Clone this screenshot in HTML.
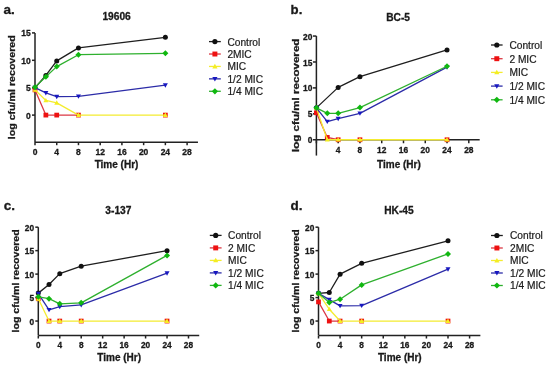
<!DOCTYPE html>
<html><head><meta charset="utf-8"><title>Time-kill curves</title>
<style>
html,body{margin:0;padding:0;background:#fff;}
body{width:550px;height:368px;overflow:hidden;}
svg{display:block;font-family:"Liberation Sans", sans-serif;filter:blur(0.35px);}
text{fill:#1a1a1a;}
text.b{stroke:#1a1a1a;stroke-width:0.3px;}
text.n{stroke:#1a1a1a;stroke-width:0.2px;}
</style></head>
<body>
<svg width="550" height="368" viewBox="0 0 550 368">
<rect width="550" height="368" fill="#fff"/>
<text class="b" x="3.50" y="14.40" font-size="13.5" font-weight="bold" text-anchor="start" >a.</text>
<text class="b" x="116.60" y="19.70" font-size="10.2" font-weight="bold" text-anchor="middle" >19606</text>
<g stroke="#222222" stroke-width="1.5" fill="none">
<path d="M35.00,32.90 V142.50"/>
<path d="M35.00,142.20 H197.96"/>
<path d="M32.00,32.90 H35.00"/>
<path d="M32.00,60.30 H35.00"/>
<path d="M32.00,87.70 H35.00"/>
<path d="M32.00,115.10 H35.00"/>
<path d="M35.00,142.20 V145.20"/>
<path d="M56.73,142.20 V145.20"/>
<path d="M78.46,142.20 V145.20"/>
<path d="M100.18,142.20 V145.20"/>
<path d="M121.91,142.20 V145.20"/>
<path d="M143.64,142.20 V145.20"/>
<path d="M165.37,142.20 V145.20"/>
<path d="M187.10,142.20 V145.20"/>
</g>
<text class="b" x="30.80" y="36.47" font-size="8.5" font-weight="bold" text-anchor="end" >15</text>
<text class="b" x="30.80" y="63.87" font-size="8.5" font-weight="bold" text-anchor="end" >10</text>
<text class="b" x="30.80" y="91.27" font-size="8.5" font-weight="bold" text-anchor="end" >5</text>
<text class="b" x="30.80" y="118.67" font-size="8.5" font-weight="bold" text-anchor="end" >0</text>
<text class="b" x="35.00" y="154.80" font-size="8.5" font-weight="bold" text-anchor="middle" >0</text>
<text class="b" x="56.73" y="154.80" font-size="8.5" font-weight="bold" text-anchor="middle" >4</text>
<text class="b" x="78.46" y="154.80" font-size="8.5" font-weight="bold" text-anchor="middle" >8</text>
<text class="b" x="100.18" y="154.80" font-size="8.5" font-weight="bold" text-anchor="middle" >12</text>
<text class="b" x="121.91" y="154.80" font-size="8.5" font-weight="bold" text-anchor="middle" >16</text>
<text class="b" x="143.64" y="154.80" font-size="8.5" font-weight="bold" text-anchor="middle" >20</text>
<text class="b" x="165.37" y="154.80" font-size="8.5" font-weight="bold" text-anchor="middle" >24</text>
<text class="b" x="187.10" y="154.80" font-size="8.5" font-weight="bold" text-anchor="middle" >28</text>
<text class="b" x="116.50" y="168.40" font-size="10" font-weight="bold" text-anchor="middle" >Time (Hr)</text>
<text transform="translate(15.00,87.25) rotate(-90) scale(1.085,1)" x="0" y="0" font-size="9.8" font-weight="bold" text-anchor="middle" class="b">log cfu/ml recovered</text>
<path d="M35.00,87.70 L45.86,75.48 L56.73,60.90 L78.46,47.92 L165.37,37.28" stroke="#1e1e1e" stroke-width="1.3" fill="none" stroke-linejoin="round"/>
<circle cx="35.00" cy="87.70" r="2.50" fill="#111111"/>
<circle cx="45.86" cy="75.48" r="2.50" fill="#111111"/>
<circle cx="56.73" cy="60.90" r="2.50" fill="#111111"/>
<circle cx="78.46" cy="47.92" r="2.50" fill="#111111"/>
<circle cx="165.37" cy="37.28" r="2.50" fill="#111111"/>
<path d="M35.00,89.89 L45.86,115.10 L56.73,115.10 L78.46,115.10" stroke="#dc3844" stroke-width="1.3" fill="none" stroke-linejoin="round"/>
<rect x="32.62" y="87.52" width="4.75" height="4.75" fill="#ee1111"/>
<rect x="43.49" y="112.72" width="4.75" height="4.75" fill="#ee1111"/>
<rect x="54.35" y="112.72" width="4.75" height="4.75" fill="#ee1111"/>
<rect x="76.08" y="112.72" width="4.75" height="4.75" fill="#ee1111"/>
<rect x="162.99" y="112.72" width="4.75" height="4.75" fill="#ee1111"/>
<path d="M35.00,89.89 L45.86,100.41 L56.73,102.82 L78.46,115.10 L165.37,115.10" stroke="#f4ec30" stroke-width="1.3" fill="none" stroke-linejoin="round"/>
<path d="M35.00,87.39 L37.50,91.77 L32.50,91.77 Z" fill="#f4ee22"/>
<path d="M45.86,97.91 L48.36,102.29 L43.36,102.29 Z" fill="#f4ee22"/>
<path d="M56.73,100.32 L59.23,104.70 L54.23,104.70 Z" fill="#f4ee22"/>
<path d="M78.46,112.60 L80.96,116.97 L75.96,116.97 Z" fill="#f4ee22"/>
<path d="M165.37,112.60 L167.87,116.97 L162.87,116.97 Z" fill="#f4ee22"/>
<path d="M35.00,87.70 L45.86,92.91 L56.73,96.69 L78.46,96.30 L165.37,85.18" stroke="#2c2ca8" stroke-width="1.3" fill="none" stroke-linejoin="round"/>
<path d="M35.00,90.20 L37.50,85.82 L32.50,85.82 Z" fill="#1818c0"/>
<path d="M45.86,95.41 L48.36,91.03 L43.36,91.03 Z" fill="#1818c0"/>
<path d="M56.73,99.19 L59.23,94.81 L54.23,94.81 Z" fill="#1818c0"/>
<path d="M78.46,98.80 L80.96,94.43 L75.96,94.43 Z" fill="#1818c0"/>
<path d="M165.37,87.68 L167.87,83.30 L162.87,83.30 Z" fill="#1818c0"/>
<path d="M35.00,87.15 L45.86,76.79 L56.73,66.60 L78.46,54.71 L165.37,53.29" stroke="#2eb02e" stroke-width="1.3" fill="none" stroke-linejoin="round"/>
<path d="M35.00,84.15 L38.00,87.15 L35.00,90.15 L32.00,87.15 Z" fill="#10b810"/>
<path d="M45.86,73.79 L48.86,76.79 L45.86,79.79 L42.86,76.79 Z" fill="#10b810"/>
<path d="M56.73,63.60 L59.73,66.60 L56.73,69.60 L53.73,66.60 Z" fill="#10b810"/>
<path d="M78.46,51.71 L81.46,54.71 L78.46,57.71 L75.46,54.71 Z" fill="#10b810"/>
<path d="M165.37,50.29 L168.37,53.29 L165.37,56.29 L162.37,53.29 Z" fill="#10b810"/>
<path d="M209.00,41.60 H220.80" stroke="#1e1e1e" stroke-width="1.3"/>
<circle cx="214.90" cy="41.60" r="2.60" fill="#111111"/>
<text class="n" x="227.40" y="45.50" font-size="10.2" font-weight="normal" text-anchor="start" >Control</text>
<path d="M209.00,54.02 H220.80" stroke="#dc3844" stroke-width="1.3"/>
<rect x="212.43" y="51.55" width="4.94" height="4.94" fill="#ee1111"/>
<text class="n" x="227.40" y="57.92" font-size="10.2" font-weight="normal" text-anchor="start" >2MIC</text>
<path d="M209.00,66.44 H220.80" stroke="#f4ec30" stroke-width="1.3"/>
<path d="M214.90,63.84 L217.50,68.39 L212.30,68.39 Z" fill="#f4ee22"/>
<text class="n" x="227.40" y="70.34" font-size="10.2" font-weight="normal" text-anchor="start" >MIC</text>
<path d="M209.00,78.86 H220.80" stroke="#2c2ca8" stroke-width="1.3"/>
<path d="M214.90,81.46 L217.50,76.91 L212.30,76.91 Z" fill="#1818c0"/>
<text class="n" x="227.40" y="82.76" font-size="10.2" font-weight="normal" text-anchor="start" >1/2 MIC</text>
<path d="M209.00,91.28 H220.80" stroke="#2eb02e" stroke-width="1.3"/>
<path d="M214.90,88.16 L218.02,91.28 L214.90,94.40 L211.78,91.28 Z" fill="#10b810"/>
<text class="n" x="227.40" y="95.18" font-size="10.2" font-weight="normal" text-anchor="start" >1/4 MIC</text>
<text class="b" x="290.60" y="14.40" font-size="13.2" font-weight="bold" text-anchor="start" >b.</text>
<text class="b" x="398.10" y="21.00" font-size="10.2" font-weight="bold" text-anchor="middle" >BC-5</text>
<g stroke="#222222" stroke-width="1.5" fill="none">
<path d="M316.40,36.05 V155.56"/>
<path d="M316.40,139.75 H479.69"/>
<path d="M312.90,36.05 H316.40"/>
<path d="M312.90,61.98 H316.40"/>
<path d="M312.90,87.90 H316.40"/>
<path d="M312.90,113.83 H316.40"/>
<path d="M312.90,139.75 H316.40"/>
<path d="M316.40,139.75 V143.25"/>
<path d="M338.17,139.75 V143.25"/>
<path d="M359.94,139.75 V143.25"/>
<path d="M381.72,139.75 V143.25"/>
<path d="M403.49,139.75 V143.25"/>
<path d="M425.26,139.75 V143.25"/>
<path d="M447.03,139.75 V143.25"/>
<path d="M468.80,139.75 V143.25"/>
</g>
<text class="b" x="312.40" y="39.58" font-size="8.4" font-weight="bold" text-anchor="end" >20</text>
<text class="b" x="312.40" y="65.50" font-size="8.4" font-weight="bold" text-anchor="end" >15</text>
<text class="b" x="312.40" y="91.43" font-size="8.4" font-weight="bold" text-anchor="end" >10</text>
<text class="b" x="312.40" y="117.35" font-size="8.4" font-weight="bold" text-anchor="end" >5</text>
<text class="b" x="312.40" y="143.28" font-size="8.4" font-weight="bold" text-anchor="end" >0</text>
<text class="b" x="338.17" y="152.90" font-size="8.4" font-weight="bold" text-anchor="middle" >4</text>
<text class="b" x="359.94" y="152.90" font-size="8.4" font-weight="bold" text-anchor="middle" >8</text>
<text class="b" x="381.72" y="152.90" font-size="8.4" font-weight="bold" text-anchor="middle" >12</text>
<text class="b" x="403.49" y="152.90" font-size="8.4" font-weight="bold" text-anchor="middle" >16</text>
<text class="b" x="425.26" y="152.90" font-size="8.4" font-weight="bold" text-anchor="middle" >20</text>
<text class="b" x="447.03" y="152.90" font-size="8.4" font-weight="bold" text-anchor="middle" >24</text>
<text class="b" x="468.80" y="152.90" font-size="8.4" font-weight="bold" text-anchor="middle" >28</text>
<text class="b" x="398.90" y="167.50" font-size="10" font-weight="bold" text-anchor="middle" >Time (Hr)</text>
<text transform="translate(298.90,95.30) rotate(-90) scale(1.29,1)" x="0" y="0" font-size="9.0" font-weight="bold" text-anchor="middle" class="b">log cfu/ml recovered</text>
<path d="M316.40,107.86 L338.17,87.38 L359.94,76.65 L447.03,49.89" stroke="#1e1e1e" stroke-width="1.3" fill="none" stroke-linejoin="round"/>
<circle cx="316.40" cy="107.86" r="2.50" fill="#111111"/>
<circle cx="338.17" cy="87.38" r="2.50" fill="#111111"/>
<circle cx="359.94" cy="76.65" r="2.50" fill="#111111"/>
<circle cx="447.03" cy="49.89" r="2.50" fill="#111111"/>
<path d="M316.40,112.79 L327.29,137.42 L338.17,139.75" stroke="#dc3844" stroke-width="1.3" fill="none" stroke-linejoin="round"/>
<rect x="314.02" y="110.41" width="4.75" height="4.75" fill="#ee1111"/>
<rect x="324.91" y="135.04" width="4.75" height="4.75" fill="#ee1111"/>
<rect x="335.80" y="137.38" width="4.75" height="4.75" fill="#ee1111"/>
<rect x="357.57" y="137.38" width="4.75" height="4.75" fill="#ee1111"/>
<rect x="444.66" y="137.38" width="4.75" height="4.75" fill="#ee1111"/>
<path d="M316.40,107.86 L327.29,139.75 L338.17,139.75 L359.94,139.75 L447.03,139.75" stroke="#f4ec30" stroke-width="1.3" fill="none" stroke-linejoin="round"/>
<path d="M316.40,105.36 L318.90,109.74 L313.90,109.74 Z" fill="#f4ee22"/>
<path d="M327.29,137.25 L329.79,141.62 L324.79,141.62 Z" fill="#f4ee22"/>
<path d="M338.17,137.25 L340.67,141.62 L335.67,141.62 Z" fill="#f4ee22"/>
<path d="M359.94,137.25 L362.44,141.62 L357.44,141.62 Z" fill="#f4ee22"/>
<path d="M447.03,137.25 L449.53,141.62 L444.53,141.62 Z" fill="#f4ee22"/>
<path d="M316.40,107.86 L327.29,121.60 L338.17,118.70 L359.94,113.36 L447.03,67.16" stroke="#2c2ca8" stroke-width="1.3" fill="none" stroke-linejoin="round"/>
<path d="M316.40,110.36 L318.90,105.99 L313.90,105.99 Z" fill="#1818c0"/>
<path d="M327.29,124.10 L329.79,119.73 L324.79,119.73 Z" fill="#1818c0"/>
<path d="M338.17,121.20 L340.67,116.82 L335.67,116.82 Z" fill="#1818c0"/>
<path d="M359.94,115.86 L362.44,111.48 L357.44,111.48 Z" fill="#1818c0"/>
<path d="M447.03,69.66 L449.53,65.29 L444.53,65.29 Z" fill="#1818c0"/>
<path d="M316.40,107.86 L327.29,113.31 L338.17,113.31 L359.94,107.60 L447.03,66.23" stroke="#2eb02e" stroke-width="1.3" fill="none" stroke-linejoin="round"/>
<path d="M316.40,104.86 L319.40,107.86 L316.40,110.86 L313.40,107.86 Z" fill="#10b810"/>
<path d="M327.29,110.31 L330.29,113.31 L327.29,116.31 L324.29,113.31 Z" fill="#10b810"/>
<path d="M338.17,110.31 L341.17,113.31 L338.17,116.31 L335.17,113.31 Z" fill="#10b810"/>
<path d="M359.94,104.60 L362.94,107.60 L359.94,110.60 L356.94,107.60 Z" fill="#10b810"/>
<path d="M447.03,63.23 L450.03,66.23 L447.03,69.23 L444.03,66.23 Z" fill="#10b810"/>
<path d="M491.00,45.00 H502.60" stroke="#1e1e1e" stroke-width="1.3"/>
<circle cx="496.80" cy="45.00" r="2.60" fill="#111111"/>
<text class="n" x="509.40" y="48.90" font-size="10.2" font-weight="normal" text-anchor="start" >Control</text>
<path d="M491.00,58.70 H502.60" stroke="#dc3844" stroke-width="1.3"/>
<rect x="494.33" y="56.23" width="4.94" height="4.94" fill="#ee1111"/>
<text class="n" x="509.40" y="62.60" font-size="10.2" font-weight="normal" text-anchor="start" >2 MIC</text>
<path d="M491.00,72.40 H502.60" stroke="#f4ec30" stroke-width="1.3"/>
<path d="M496.80,69.80 L499.40,74.35 L494.20,74.35 Z" fill="#f4ee22"/>
<text class="n" x="509.40" y="76.30" font-size="10.2" font-weight="normal" text-anchor="start" >MIC</text>
<path d="M491.00,86.10 H502.60" stroke="#2c2ca8" stroke-width="1.3"/>
<path d="M496.80,88.70 L499.40,84.15 L494.20,84.15 Z" fill="#1818c0"/>
<text class="n" x="509.40" y="90.00" font-size="10.2" font-weight="normal" text-anchor="start" >1/2 MIC</text>
<path d="M491.00,99.80 H502.60" stroke="#2eb02e" stroke-width="1.3"/>
<path d="M496.80,96.68 L499.92,99.80 L496.80,102.92 L493.68,99.80 Z" fill="#10b810"/>
<text class="n" x="509.40" y="103.70" font-size="10.2" font-weight="normal" text-anchor="start" >1/4 MIC</text>
<text class="b" x="3.80" y="210.10" font-size="13.5" font-weight="bold" text-anchor="start" >c.</text>
<text class="b" x="118.40" y="214.10" font-size="10.2" font-weight="bold" text-anchor="middle" >3-137</text>
<g stroke="#222222" stroke-width="1.5" fill="none">
<path d="M38.30,227.17 V335.13"/>
<path d="M38.30,335.50 H199.22"/>
<path d="M35.30,227.17 H38.30"/>
<path d="M35.30,250.64 H38.30"/>
<path d="M35.30,274.11 H38.30"/>
<path d="M35.30,297.58 H38.30"/>
<path d="M35.30,321.05 H38.30"/>
<path d="M38.30,335.50 V338.50"/>
<path d="M59.76,335.50 V338.50"/>
<path d="M81.21,335.50 V338.50"/>
<path d="M102.67,335.50 V338.50"/>
<path d="M124.12,335.50 V338.50"/>
<path d="M145.58,335.50 V338.50"/>
<path d="M167.04,335.50 V338.50"/>
<path d="M188.49,335.50 V338.50"/>
</g>
<text class="b" x="34.10" y="230.66" font-size="8.3" font-weight="bold" text-anchor="end" >20</text>
<text class="b" x="34.10" y="254.13" font-size="8.3" font-weight="bold" text-anchor="end" >15</text>
<text class="b" x="34.10" y="277.60" font-size="8.3" font-weight="bold" text-anchor="end" >10</text>
<text class="b" x="34.10" y="301.07" font-size="8.3" font-weight="bold" text-anchor="end" >5</text>
<text class="b" x="34.10" y="324.54" font-size="8.3" font-weight="bold" text-anchor="end" >0</text>
<text class="b" x="38.30" y="347.80" font-size="8.3" font-weight="bold" text-anchor="middle" >0</text>
<text class="b" x="59.76" y="347.80" font-size="8.3" font-weight="bold" text-anchor="middle" >4</text>
<text class="b" x="81.21" y="347.80" font-size="8.3" font-weight="bold" text-anchor="middle" >8</text>
<text class="b" x="102.67" y="347.80" font-size="8.3" font-weight="bold" text-anchor="middle" >12</text>
<text class="b" x="124.12" y="347.80" font-size="8.3" font-weight="bold" text-anchor="middle" >16</text>
<text class="b" x="145.58" y="347.80" font-size="8.3" font-weight="bold" text-anchor="middle" >20</text>
<text class="b" x="167.04" y="347.80" font-size="8.3" font-weight="bold" text-anchor="middle" >24</text>
<text class="b" x="188.49" y="347.80" font-size="8.3" font-weight="bold" text-anchor="middle" >28</text>
<text class="b" x="119.20" y="360.60" font-size="10" font-weight="bold" text-anchor="middle" >Time (Hr)</text>
<text transform="translate(18.90,280.90) rotate(-90) scale(1.1,1)" x="0" y="0" font-size="9.6" font-weight="bold" text-anchor="middle" class="b">log cfu/ml recovered</text>
<path d="M38.30,293.12 L49.03,284.58 L59.76,273.64 L81.21,266.13 L167.04,250.64" stroke="#1e1e1e" stroke-width="1.3" fill="none" stroke-linejoin="round"/>
<circle cx="38.30" cy="293.12" r="2.50" fill="#111111"/>
<circle cx="49.03" cy="284.58" r="2.50" fill="#111111"/>
<circle cx="59.76" cy="273.64" r="2.50" fill="#111111"/>
<circle cx="81.21" cy="266.13" r="2.50" fill="#111111"/>
<circle cx="167.04" cy="250.64" r="2.50" fill="#111111"/>
<rect x="35.92" y="296.38" width="4.75" height="4.75" fill="#ee1111"/>
<rect x="46.65" y="318.68" width="4.75" height="4.75" fill="#ee1111"/>
<rect x="57.38" y="318.68" width="4.75" height="4.75" fill="#ee1111"/>
<rect x="78.84" y="318.68" width="4.75" height="4.75" fill="#ee1111"/>
<rect x="164.66" y="318.68" width="4.75" height="4.75" fill="#ee1111"/>
<path d="M38.30,298.75 L49.03,321.05 L59.76,321.05 L81.21,321.05 L167.04,321.05" stroke="#f4ec30" stroke-width="1.3" fill="none" stroke-linejoin="round"/>
<path d="M38.30,296.25 L40.80,300.63 L35.80,300.63 Z" fill="#f4ee22"/>
<path d="M49.03,318.55 L51.53,322.93 L46.53,322.93 Z" fill="#f4ee22"/>
<path d="M59.76,318.55 L62.26,322.93 L57.26,322.93 Z" fill="#f4ee22"/>
<path d="M81.21,318.55 L83.71,322.93 L78.71,322.93 Z" fill="#f4ee22"/>
<path d="M167.04,318.55 L169.54,322.93 L164.54,322.93 Z" fill="#f4ee22"/>
<path d="M38.30,293.59 L49.03,309.83 L59.76,306.64 L81.21,304.90 L167.04,273.17" stroke="#2c2ca8" stroke-width="1.3" fill="none" stroke-linejoin="round"/>
<path d="M38.30,296.09 L40.80,291.72 L35.80,291.72 Z" fill="#1818c0"/>
<path d="M49.03,312.33 L51.53,307.96 L46.53,307.96 Z" fill="#1818c0"/>
<path d="M59.76,309.14 L62.26,304.76 L57.26,304.76 Z" fill="#1818c0"/>
<path d="M81.21,307.40 L83.71,303.03 L78.71,303.03 Z" fill="#1818c0"/>
<path d="M167.04,275.67 L169.54,271.30 L164.54,271.30 Z" fill="#1818c0"/>
<path d="M38.30,296.83 L49.03,298.71 L59.76,303.82 L81.21,302.84 L167.04,255.43" stroke="#2eb02e" stroke-width="1.3" fill="none" stroke-linejoin="round"/>
<path d="M38.30,293.83 L41.30,296.83 L38.30,299.83 L35.30,296.83 Z" fill="#10b810"/>
<path d="M49.03,295.71 L52.03,298.71 L49.03,301.71 L46.03,298.71 Z" fill="#10b810"/>
<path d="M59.76,300.82 L62.76,303.82 L59.76,306.82 L56.76,303.82 Z" fill="#10b810"/>
<path d="M81.21,299.84 L84.21,302.84 L81.21,305.84 L78.21,302.84 Z" fill="#10b810"/>
<path d="M167.04,252.43 L170.04,255.43 L167.04,258.43 L164.04,255.43 Z" fill="#10b810"/>
<path d="M209.80,235.40 H221.60" stroke="#1e1e1e" stroke-width="1.3"/>
<circle cx="215.70" cy="235.40" r="2.60" fill="#111111"/>
<text class="n" x="228.10" y="239.30" font-size="10.2" font-weight="normal" text-anchor="start" >Control</text>
<path d="M209.80,247.90 H221.60" stroke="#dc3844" stroke-width="1.3"/>
<rect x="213.23" y="245.43" width="4.94" height="4.94" fill="#ee1111"/>
<text class="n" x="228.10" y="251.80" font-size="10.2" font-weight="normal" text-anchor="start" >2 MIC</text>
<path d="M209.80,260.40 H221.60" stroke="#f4ec30" stroke-width="1.3"/>
<path d="M215.70,257.80 L218.30,262.35 L213.10,262.35 Z" fill="#f4ee22"/>
<text class="n" x="228.10" y="264.30" font-size="10.2" font-weight="normal" text-anchor="start" >MIC</text>
<path d="M209.80,272.90 H221.60" stroke="#2c2ca8" stroke-width="1.3"/>
<path d="M215.70,275.50 L218.30,270.95 L213.10,270.95 Z" fill="#1818c0"/>
<text class="n" x="228.10" y="276.80" font-size="10.2" font-weight="normal" text-anchor="start" >1/2 MIC</text>
<path d="M209.80,285.40 H221.60" stroke="#2eb02e" stroke-width="1.3"/>
<path d="M215.70,282.28 L218.82,285.40 L215.70,288.52 L212.58,285.40 Z" fill="#10b810"/>
<text class="n" x="228.10" y="289.30" font-size="10.2" font-weight="normal" text-anchor="start" >1/4 MIC</text>
<text class="b" x="290.40" y="210.10" font-size="13.5" font-weight="bold" text-anchor="start" >d.</text>
<text class="b" x="399.00" y="214.10" font-size="10.2" font-weight="bold" text-anchor="middle" >HK-45</text>
<g stroke="#222222" stroke-width="1.5" fill="none">
<path d="M318.50,227.17 V335.13"/>
<path d="M318.50,335.50 H480.38"/>
<path d="M315.50,227.17 H318.50"/>
<path d="M315.50,250.64 H318.50"/>
<path d="M315.50,274.11 H318.50"/>
<path d="M315.50,297.58 H318.50"/>
<path d="M315.50,321.05 H318.50"/>
<path d="M318.50,335.50 V338.50"/>
<path d="M340.08,335.50 V338.50"/>
<path d="M361.67,335.50 V338.50"/>
<path d="M383.25,335.50 V338.50"/>
<path d="M404.84,335.50 V338.50"/>
<path d="M426.42,335.50 V338.50"/>
<path d="M448.00,335.50 V338.50"/>
<path d="M469.59,335.50 V338.50"/>
</g>
<text class="b" x="314.30" y="230.66" font-size="8.3" font-weight="bold" text-anchor="end" >20</text>
<text class="b" x="314.30" y="254.13" font-size="8.3" font-weight="bold" text-anchor="end" >15</text>
<text class="b" x="314.30" y="277.60" font-size="8.3" font-weight="bold" text-anchor="end" >10</text>
<text class="b" x="314.30" y="301.07" font-size="8.3" font-weight="bold" text-anchor="end" >5</text>
<text class="b" x="314.30" y="324.54" font-size="8.3" font-weight="bold" text-anchor="end" >0</text>
<text class="b" x="318.50" y="347.80" font-size="8.3" font-weight="bold" text-anchor="middle" >0</text>
<text class="b" x="340.08" y="347.80" font-size="8.3" font-weight="bold" text-anchor="middle" >4</text>
<text class="b" x="361.67" y="347.80" font-size="8.3" font-weight="bold" text-anchor="middle" >8</text>
<text class="b" x="383.25" y="347.80" font-size="8.3" font-weight="bold" text-anchor="middle" >12</text>
<text class="b" x="404.84" y="347.80" font-size="8.3" font-weight="bold" text-anchor="middle" >16</text>
<text class="b" x="426.42" y="347.80" font-size="8.3" font-weight="bold" text-anchor="middle" >20</text>
<text class="b" x="448.00" y="347.80" font-size="8.3" font-weight="bold" text-anchor="middle" >24</text>
<text class="b" x="469.59" y="347.80" font-size="8.3" font-weight="bold" text-anchor="middle" >28</text>
<text class="b" x="399.80" y="360.60" font-size="10" font-weight="bold" text-anchor="middle" >Time (Hr)</text>
<text transform="translate(298.90,280.90) rotate(-90) scale(1.1,1)" x="0" y="0" font-size="9.6" font-weight="bold" text-anchor="middle" class="b">log cfu/ml recovered</text>
<path d="M318.50,293.36 L329.29,292.51 L340.08,274.16 L361.67,263.31 L448.00,240.78" stroke="#1e1e1e" stroke-width="1.3" fill="none" stroke-linejoin="round"/>
<circle cx="318.50" cy="293.36" r="2.50" fill="#111111"/>
<circle cx="329.29" cy="292.51" r="2.50" fill="#111111"/>
<circle cx="340.08" cy="274.16" r="2.50" fill="#111111"/>
<circle cx="361.67" cy="263.31" r="2.50" fill="#111111"/>
<circle cx="448.00" cy="240.78" r="2.50" fill="#111111"/>
<path d="M318.50,301.90 L329.29,321.05 L340.08,321.05" stroke="#dc3844" stroke-width="1.3" fill="none" stroke-linejoin="round"/>
<rect x="316.12" y="299.52" width="4.75" height="4.75" fill="#ee1111"/>
<rect x="326.92" y="318.68" width="4.75" height="4.75" fill="#ee1111"/>
<rect x="337.71" y="318.68" width="4.75" height="4.75" fill="#ee1111"/>
<rect x="359.29" y="318.68" width="4.75" height="4.75" fill="#ee1111"/>
<rect x="445.63" y="318.68" width="4.75" height="4.75" fill="#ee1111"/>
<path d="M318.50,293.36 L329.29,309.22 L340.08,321.05 L361.67,321.05 L448.00,321.05" stroke="#f4ec30" stroke-width="1.3" fill="none" stroke-linejoin="round"/>
<path d="M318.50,290.86 L321.00,295.23 L316.00,295.23 Z" fill="#f4ee22"/>
<path d="M329.29,306.72 L331.79,311.10 L326.79,311.10 Z" fill="#f4ee22"/>
<path d="M340.08,318.55 L342.58,322.93 L337.58,322.93 Z" fill="#f4ee22"/>
<path d="M361.67,318.55 L364.17,322.93 L359.17,322.93 Z" fill="#f4ee22"/>
<path d="M448.00,318.55 L450.50,322.93 L445.50,322.93 Z" fill="#f4ee22"/>
<path d="M318.50,293.36 L329.29,299.60 L340.08,305.84 L361.67,305.61 L448.00,269.18" stroke="#2c2ca8" stroke-width="1.3" fill="none" stroke-linejoin="round"/>
<path d="M318.50,295.86 L321.00,291.48 L316.00,291.48 Z" fill="#1818c0"/>
<path d="M329.29,302.10 L331.79,297.72 L326.79,297.72 Z" fill="#1818c0"/>
<path d="M340.08,308.34 L342.58,303.97 L337.58,303.97 Z" fill="#1818c0"/>
<path d="M361.67,308.11 L364.17,303.73 L359.17,303.73 Z" fill="#1818c0"/>
<path d="M448.00,271.68 L450.50,267.31 L445.50,267.31 Z" fill="#1818c0"/>
<path d="M318.50,293.36 L329.29,302.51 L340.08,299.22 L361.67,284.91 L448.00,253.93" stroke="#2eb02e" stroke-width="1.3" fill="none" stroke-linejoin="round"/>
<path d="M318.50,290.36 L321.50,293.36 L318.50,296.36 L315.50,293.36 Z" fill="#10b810"/>
<path d="M329.29,299.51 L332.29,302.51 L329.29,305.51 L326.29,302.51 Z" fill="#10b810"/>
<path d="M340.08,296.22 L343.08,299.22 L340.08,302.22 L337.08,299.22 Z" fill="#10b810"/>
<path d="M361.67,281.91 L364.67,284.91 L361.67,287.91 L358.67,284.91 Z" fill="#10b810"/>
<path d="M448.00,250.93 L451.00,253.93 L448.00,256.93 L445.00,253.93 Z" fill="#10b810"/>
<path d="M491.00,235.50 H502.80" stroke="#1e1e1e" stroke-width="1.3"/>
<circle cx="496.90" cy="235.50" r="2.60" fill="#111111"/>
<text class="n" x="510.00" y="239.40" font-size="10.2" font-weight="normal" text-anchor="start" >Control</text>
<path d="M491.00,248.00 H502.80" stroke="#dc3844" stroke-width="1.3"/>
<rect x="494.43" y="245.53" width="4.94" height="4.94" fill="#ee1111"/>
<text class="n" x="510.00" y="251.90" font-size="10.2" font-weight="normal" text-anchor="start" >2MIC</text>
<path d="M491.00,260.50 H502.80" stroke="#f4ec30" stroke-width="1.3"/>
<path d="M496.90,257.90 L499.50,262.45 L494.30,262.45 Z" fill="#f4ee22"/>
<text class="n" x="510.00" y="264.40" font-size="10.2" font-weight="normal" text-anchor="start" >MIC</text>
<path d="M491.00,273.00 H502.80" stroke="#2c2ca8" stroke-width="1.3"/>
<path d="M496.90,275.60 L499.50,271.05 L494.30,271.05 Z" fill="#1818c0"/>
<text class="n" x="510.00" y="276.90" font-size="10.2" font-weight="normal" text-anchor="start" >1/2 MIC</text>
<path d="M491.00,285.50 H502.80" stroke="#2eb02e" stroke-width="1.3"/>
<path d="M496.90,282.38 L500.02,285.50 L496.90,288.62 L493.78,285.50 Z" fill="#10b810"/>
<text class="n" x="510.00" y="289.40" font-size="10.2" font-weight="normal" text-anchor="start" >1/4 MIC</text>
</svg>
</body></html>
